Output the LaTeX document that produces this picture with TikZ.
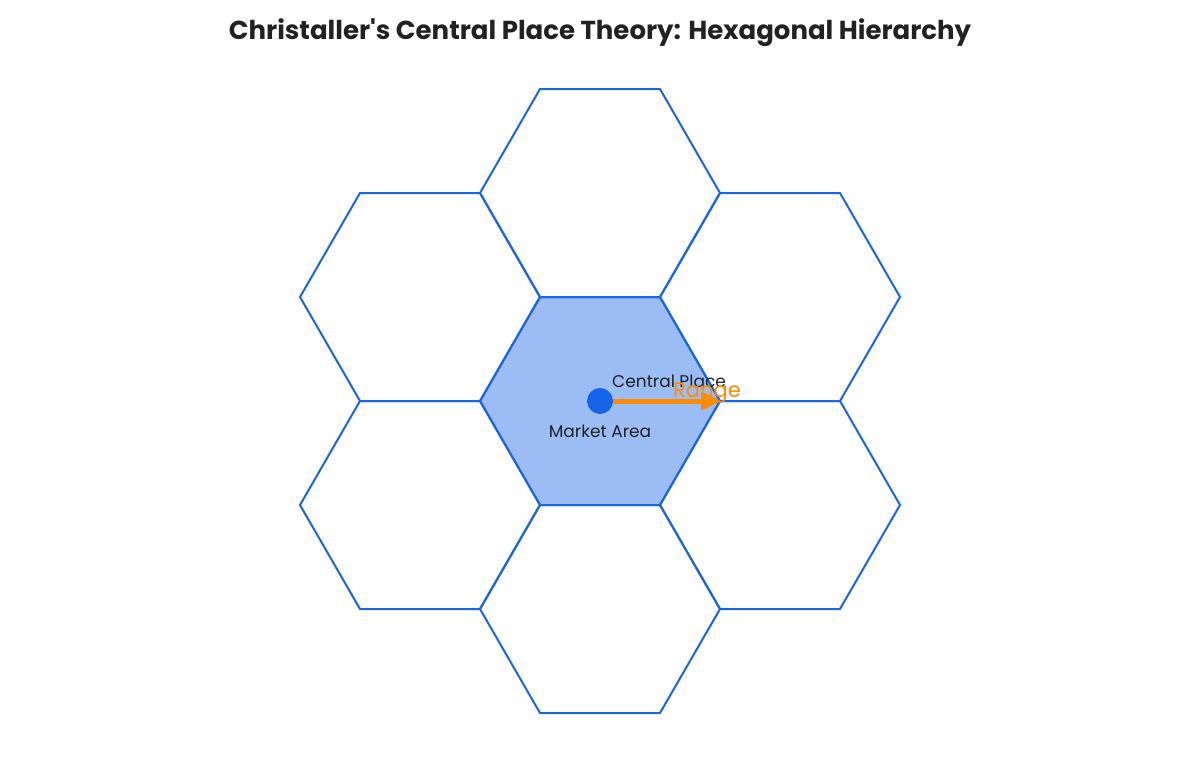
\documentclass[tikz,border=0pt]{standalone}
\usepackage{fontspec}
\setmainfont{Poppins}[Ligatures=TeXOff]
\usetikzlibrary{arrows.meta}
\definecolor{hexblue}{HTML}{1A66E0}
\definecolor{hexfill}{HTML}{9BBCF5}
\definecolor{dotblue}{HTML}{1565E8}
\definecolor{rangeor}{HTML}{FF8C00}
\definecolor{txt}{HTML}{222222}
\tikzset{
  hexcell/.style={draw=hexblue, line width=2pt, line join=miter},
  lbl/.style={font=\fontsize{17}{20}\selectfont, text=txt, inner sep=0pt},
}
\newcommand{\hexat}[3]{% x y style
  \path[#3] (#1-120,#2) -- (#1-60,#2-104) -- (#1+60,#2-104) -- (#1+120,#2) -- (#1+60,#2+104) -- (#1-60,#2+104) -- cycle;
}
\begin{document}
\begin{tikzpicture}[x=1pt,y=-1pt]
\useasboundingbox (0,0) rectangle (1200,763);
\fill[white] (0,0) rectangle (1200,763);
\node[font=\fontsize{26}{30}\selectfont\bfseries, text=txt, inner sep=0pt, anchor=base] (title) at (600,39) {Christaller's Central Place Theory: Hexagonal Hierarchy};
\hexat{600}{401}{hexcell, fill=hexfill}
\hexat{600}{193}{hexcell}
\hexat{420}{297}{hexcell}
\hexat{780}{297}{hexcell}
\hexat{420}{505}{hexcell}
\hexat{780}{505}{hexcell}
\hexat{600}{609}{hexcell}
\node[circle, fill=dotblue, minimum size=26pt, inner sep=0pt] (cp) at (600,401) {};
\coordinate (rangeend) at (721,401);
\draw[rangeor, line width=5pt, -{Triangle[length=20pt,width=18pt]}] (cp.east) -- (rangeend);
\node[lbl, anchor=base west] (cplabel) at (612,387) {Central Place};
\node[lbl, anchor=base west, text=rangeor, font=\fontsize{21}{24}\selectfont] (rangelabel) at (673,397) {Range};
\node[lbl, anchor=base] (malabel) at (600,437) {Market Area};
\end{tikzpicture}
\end{document}
